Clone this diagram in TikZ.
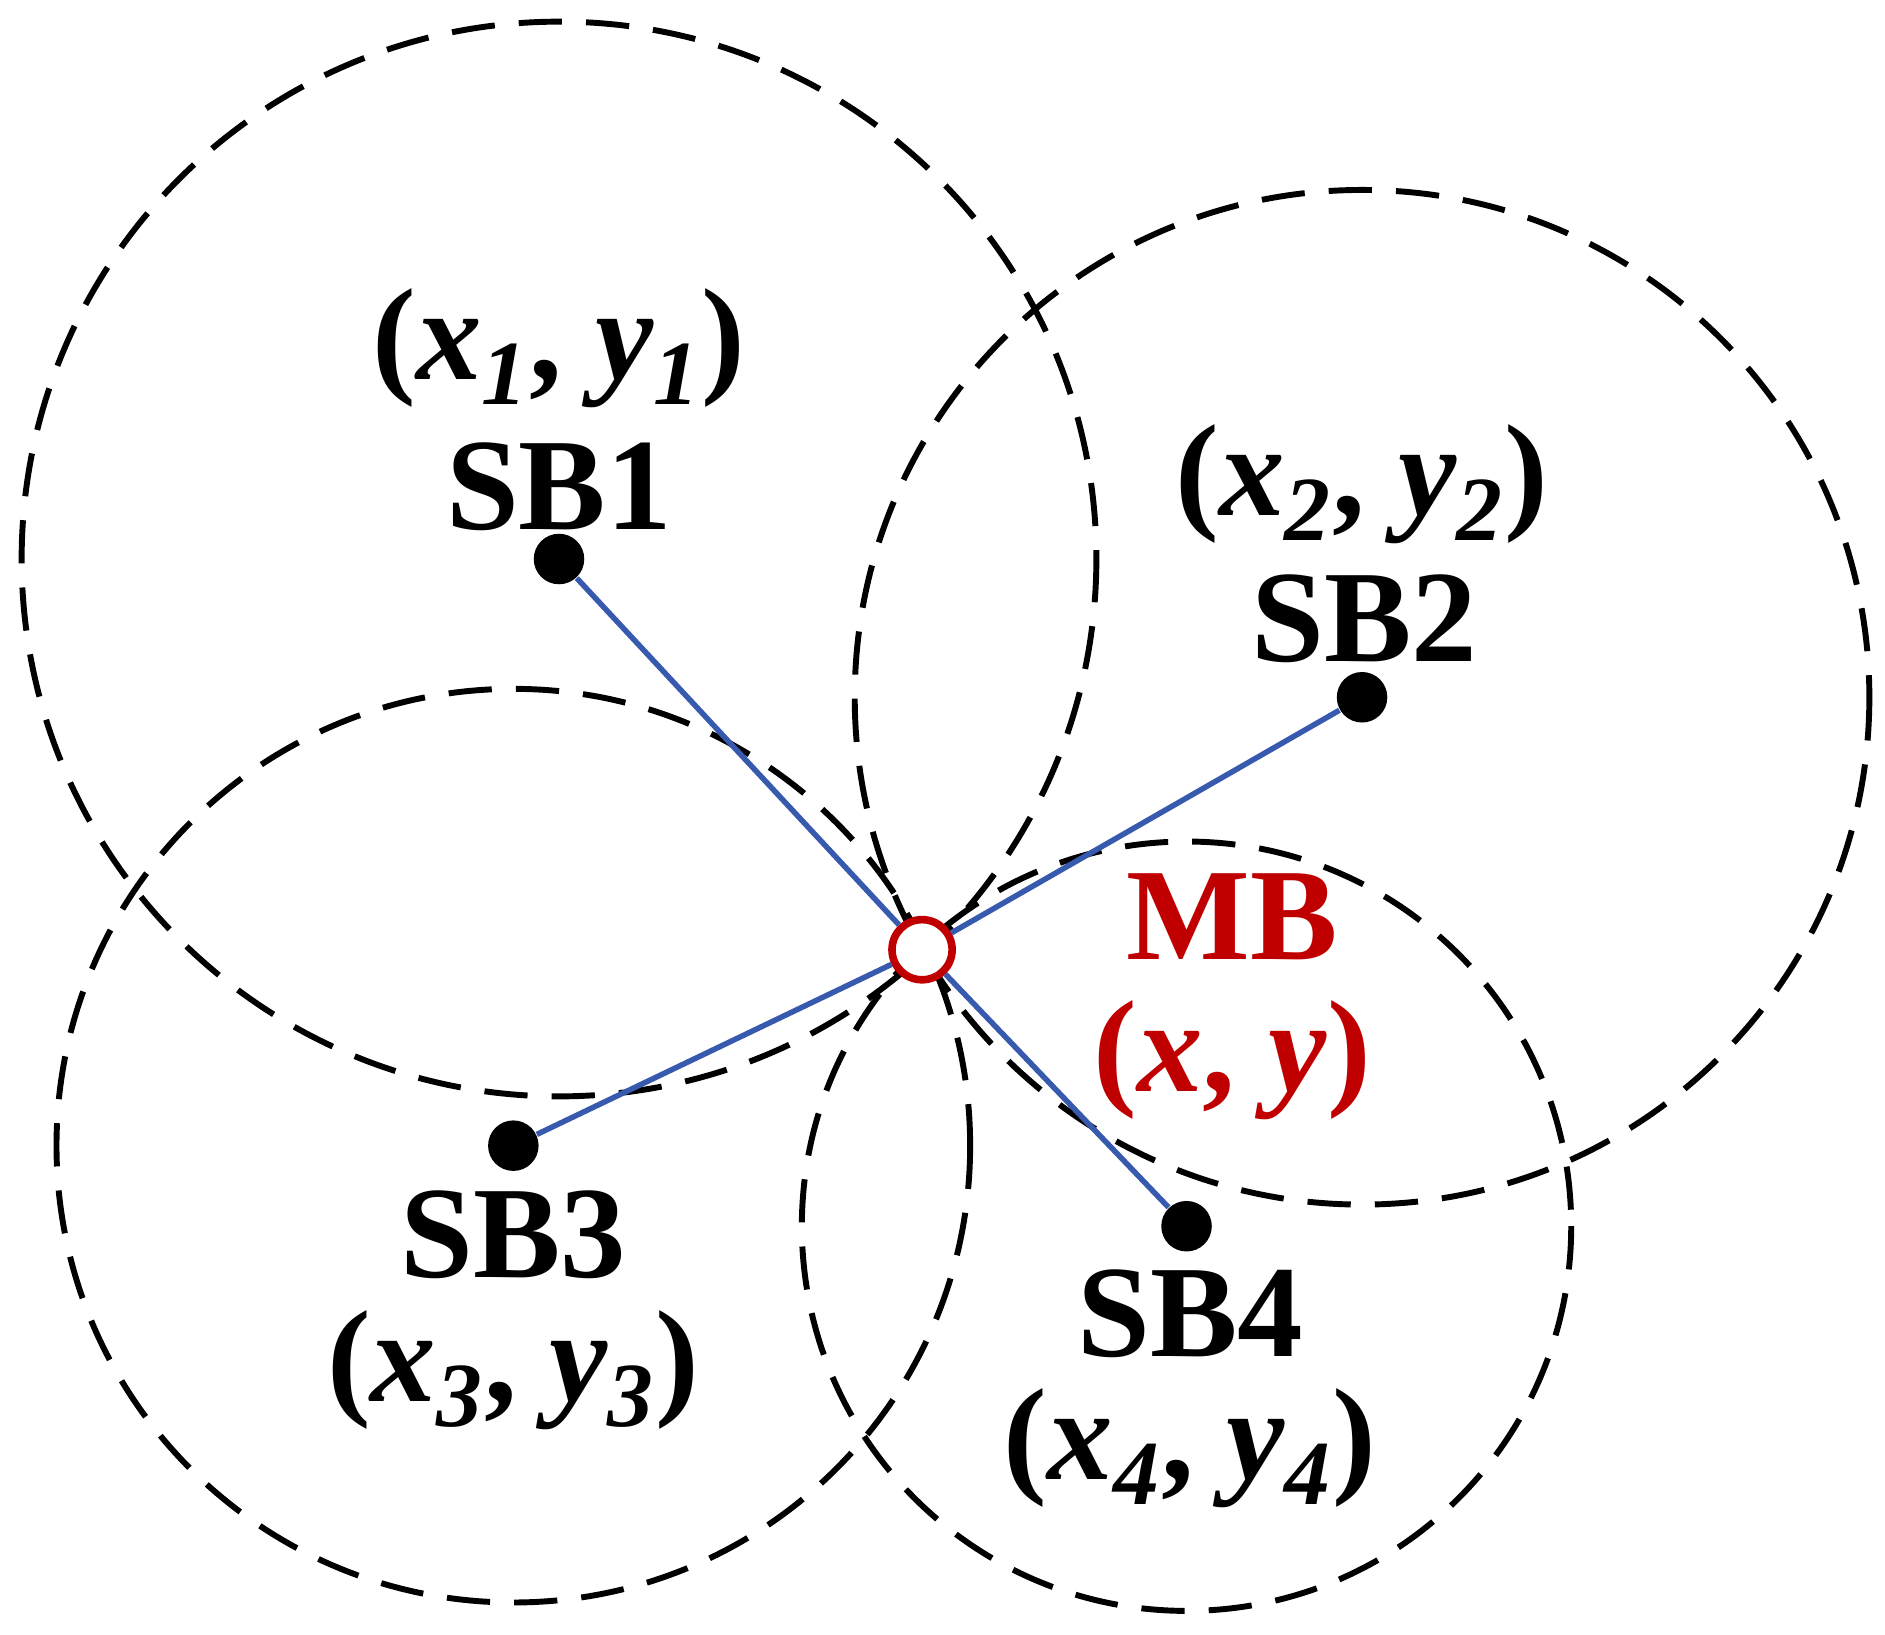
\documentclass[tikz,border=0pt]{standalone}
\usepackage{fontspec}
\setmainfont{Liberation Serif}
\begin{document}
\begin{tikzpicture}[x=0.01cm,y=-0.01cm,
  ring/.style={draw=black,line width=1.4pt,dash pattern=on 0.36cm off 0.2cm},
  link/.style={draw=blueline,line width=1.3pt},
  dot/.style={circle,fill=black,inner sep=0pt,minimum size=0.42cm},
  lbl/.style={font=\fontsize{31}{34}\selectfont\bfseries,inner sep=0pt}]
\definecolor{blueline}{RGB}{55,90,175}
\definecolor{mbred}{RGB}{192,0,0}
\useasboundingbox (0,0) rectangle (1568,1360);
\draw[ring] (465,465) circle[radius=447];
\draw[ring] (1133,580) circle[radius=422];
\draw[ring] (427,953) circle[radius=380];
\draw[ring] (987,1020) circle[radius=320];
\node[dot] (s1) at (465,465) {};
\node[dot] (s2) at (1133,580) {};
\node[dot] (s3) at (427,953) {};
\node[dot] (s4) at (987,1020) {};
\node[circle,draw=mbred,fill=white,line width=1.8pt,minimum size=0.5cm,inner sep=0pt] (mb) at (767,790) {};
\draw[link] (s1) -- (mb); \draw[link] (s2) -- (mb);
\draw[link] (s3) -- (mb); \draw[link] (s4) -- (mb);
\node[lbl] (t1a) at (465,290) {(\textit{x\textsubscript{1}}, \textit{y\textsubscript{1}})};
\node[lbl] (t1b) at (465,405) {SB1};
\node[lbl] (t2a) at (1133,403) {(\textit{x\textsubscript{2}}, \textit{y\textsubscript{2}})};
\node[lbl] (t2b) at (1135,515) {SB2};
\node[lbl,text=mbred] (tma) at (1025,763) {MB};
\node[lbl,text=mbred] (tmb) at (1025,882) {(\textit{x}, \textit{y})};
\node[lbl] (t3a) at (427,1027) {SB3};
\node[lbl] (t3b) at (427,1140) {(\textit{x\textsubscript{3}}, \textit{y\textsubscript{3}})};
\node[lbl] (t4a) at (990,1093) {SB4};
\node[lbl] (t4b) at (990,1205) {(\textit{x\textsubscript{4}}, \textit{y\textsubscript{4}})};
\end{tikzpicture}
\end{document}
